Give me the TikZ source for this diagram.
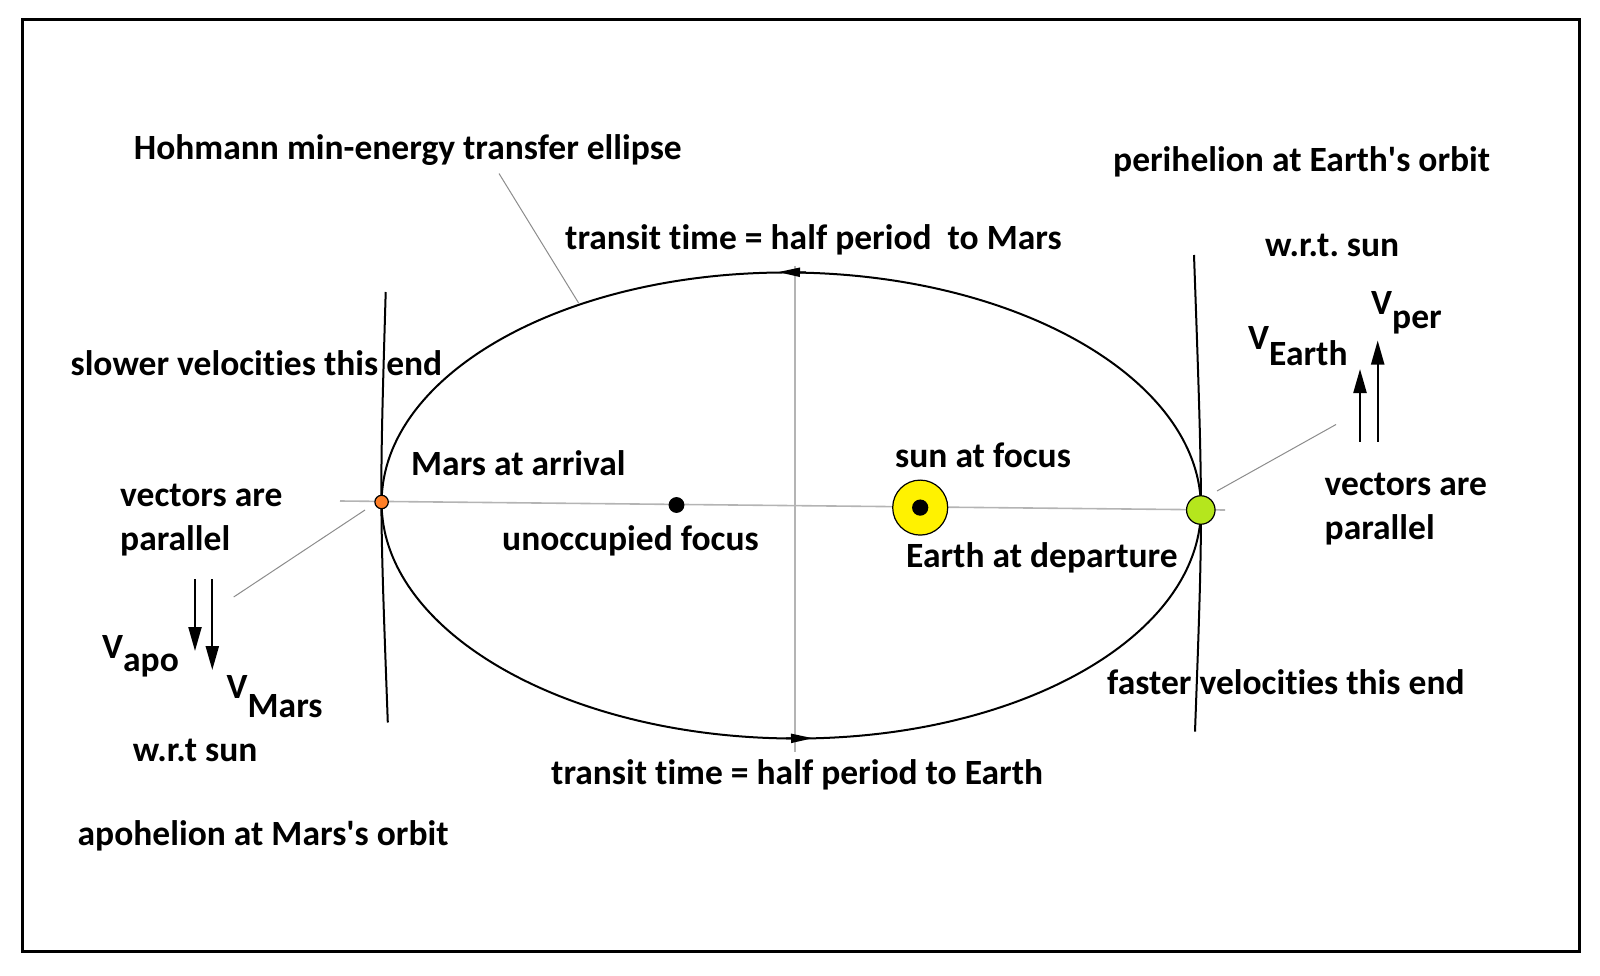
\documentclass[tikz,border=0pt]{standalone}
\usepackage{fontspec}
\setmainfont{Carlito}[Ligatures={NoCommon}]
\usetikzlibrary{arrows.meta}
\definecolor{marsorange}{HTML}{FF7F27}
\definecolor{earthgreen}{HTML}{B5E61D}
\definecolor{sunyellow}{HTML}{FFF200}
\definecolor{axisgray}{HTML}{B4B4B4}
\definecolor{ptrgray}{HTML}{8C8C8C}
\begin{document}
\frenchspacing
\begin{tikzpicture}[x=1pt,y=-1pt,
  txt/.style={anchor=base west, inner sep=0pt, font=\fontsize{35.5}{42}\selectfont\bfseries},
  orbitline/.style={draw=black, line width=2pt},
  axisline/.style={draw=axisgray, line width=1.6pt},
  ptrline/.style={draw=ptrgray, line width=1pt},
  vecarrow/.style={draw=black, line width=2.2pt, -{Triangle[length=24pt,width=13pt]}},
  dirarrow/.style={draw=black, line width=2pt, -{Triangle[length=22pt,width=9pt]}},
  dot/.style={circle, draw=black, line width=1.2pt, inner sep=0pt}]
\useasboundingbox (0,0) rectangle (1600,976);
\draw[line width=3pt] (22,19.5) rectangle (1579,951.5);

% axes
\coordinate (axL) at (340,501);
\coordinate (axR) at (1225,510);
\coordinate (axT) at (795,266);
\coordinate (axB) at (795,752);
\draw[axisline] (axL) -- (axR);
\draw[axisline] (axT) -- (axB);

% transfer ellipse
\draw[orbitline, rotate around={-0.57:(791.3,505.5)}] (791.3,505.5) ellipse [x radius=409.7, y radius=233];
\coordinate (topA) at (806,272.3);
\coordinate (topB) at (778,272.1);
\coordinate (botA) at (786,738.4);
\coordinate (botB) at (813,738.2);
\draw[dirarrow] (topA) -- (topB);
\draw[dirarrow] (botA) -- (botB);

% orbits of Mars and Earth
\coordinate (marsT) at (385.7,292);
\coordinate (marsB) at (387.8,722.5);
\coordinate (earthT) at (1194,255);
\coordinate (earthB) at (1195,731.6);
\draw[orbitline] (marsT) .. controls (379.6,500.5) .. (marsB);
\draw[orbitline] (earthT) .. controls (1203.1,510.8) .. (earthB);

% bodies
\node[dot, fill=marsorange, minimum size=13.4pt] (mars) at (381.6,502) {};
\node[dot, fill=black, minimum size=14.6pt] (focus) at (676.5,505) {};
\node[dot, fill=sunyellow, minimum size=55pt] (sun) at (920.2,507.6) {};
\node[dot, fill=black, minimum size=15pt] (suncore) at (sun.center) {};
\node[dot, fill=earthgreen, minimum size=28.5pt] (earth) at (1200.8,510) {};

% labels
\node[txt] (hoh) at (133.7,160) {Hohmann min-energy transfer ellipse};
\node[txt] (peri) at (1113,172) {perihelion at Earth\textquotesingle s orbit};
\node[txt] (ttmars) at (565,250) {transit time = half period\ \ to Mars};
\node[txt] (wrtR) at (1265,257) {w.r.t. sun};
\node[txt] (slow) at (70.4,375) {slower velocities this end};
\node[txt] (marsarr) at (411,475) {Mars at arrival};
\node[txt] (sunfoc) at (895,467) {sun at focus};
\node[txt] (vecL1) at (120,506) {vectors are};
\node[txt] (vecL2) at (120,550) {parallel};
\node[txt] (vecR1) at (1324.5,495) {vectors are};
\node[txt] (vecR2) at (1324.5,539) {parallel};
\node[txt] (unocc) at (502,550) {unoccupied focus};
\node[txt] (earthdep) at (906,567) {Earth at departure};
\node[txt] (fast) at (1107,694) {faster velocities this end};
\node[txt] (wrtL) at (132.7,761) {w.r.t sun};
\node[txt] (ttearth) at (551,784) {transit time = half period to Earth};
\node[txt] (apo) at (77.5,845) {apohelion at Mars\textquotesingle s orbit};
\node[txt] (vper) at (1371,314) {V\raisebox{-14pt}{per}};
\node[txt] (vearth) at (1248,349) {V\raisebox{-16pt}{Earth}};
\node[txt] (vapo) at (102,658) {V\raisebox{-13pt}{apo}};
\node[txt] (vmars) at (226.5,698) {V\raisebox{-19pt}{Mars}};

% pointer lines
\coordinate (hohP) at (499,173.5);
\coordinate (hohE) at (578.6,303);
\draw[ptrline] (hohP) -- (hohE);
\coordinate (ptrLa) at (365,510);
\coordinate (ptrLb) at (233.7,597);
\draw[ptrline] (ptrLa) -- (ptrLb);
\coordinate (ptrRa) at (1217,491);
\coordinate (ptrRb) at (1336,424.5);
\draw[ptrline] (ptrRa) -- (ptrRb);

% velocity vectors
\coordinate (veS) at (1360,441.7);
\coordinate (veE) at (1360,369);
\coordinate (vpS) at (1377.7,441.7);
\coordinate (vpE) at (1377.7,340.5);
\draw[vecarrow] (veS) -- (veE);
\draw[vecarrow] (vpS) -- (vpE);
\coordinate (vaS) at (195,579);
\coordinate (vaE) at (195,651);
\coordinate (vmS) at (212.3,579);
\coordinate (vmE) at (212.3,670);
\draw[vecarrow] (vaS) -- (vaE);
\draw[vecarrow] (vmS) -- (vmE);
\end{tikzpicture}
\end{document}
